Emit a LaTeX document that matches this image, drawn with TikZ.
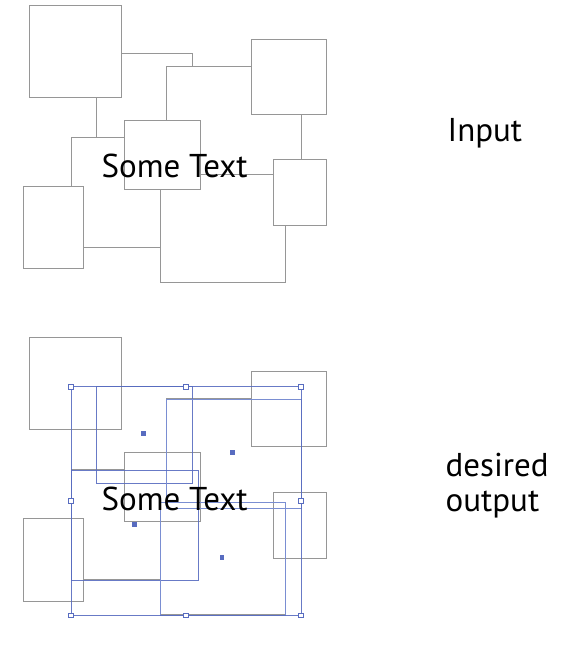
\documentclass[tikz,border=0pt]{standalone}
\usepackage{fontspec}
\setmainfont{PT Sans}
\definecolor{boxgray}{RGB}{150,150,150}
\definecolor{selblue}{RGB}{88,108,192}
\definecolor{lightblue}{RGB}{122,142,210}
\tikzset{
  box/.style={draw=boxgray, line width=0.9pt, inner sep=0pt, outer sep=0pt, fill=none},
  conn/.style={draw=boxgray, line width=0.9pt},
  selrect/.style={draw=selblue, line width=1pt, opacity=0.9},
  selrectlight/.style={draw=lightblue, line width=1pt},
  handle/.style={draw=selblue, fill=white, line width=0.7pt, minimum size=4.5pt, inner sep=0pt},
  cdot/.style={fill=selblue, minimum size=4.6pt, inner sep=0pt},
  bigtext/.style={font=\fontsize{33}{40}\selectfont, inner sep=0pt, text=black},
  sidetext/.style={font=\fontsize{33}{40}\selectfont, inner sep=0pt, anchor=base west, text=black},
}
\newcommand{\drawboxes}[1]{%
  \node[box, minimum width=91.5pt, minimum height=92pt] (A#1) at (75.25,51.3) {};
  \node[box, minimum width=74.3pt, minimum height=74.7pt] (B#1) at (288.85,76.65) {};
  \node[box, minimum width=76pt, minimum height=69pt] (C#1) at (162.3,154.8) {};
  \node[box, minimum width=52.7pt, minimum height=66pt] (D#1) at (299.65,192.7) {};
  \node[box, minimum width=60.3pt, minimum height=82.4pt] (E#1) at (53.15,227.5) {};
}
\begin{document}
\begin{tikzpicture}[x=1pt,y=-1pt]
\useasboundingbox (0,0) rectangle (561,661);
\fill[white] (0,0) rectangle (561,661);

% ---------- Input ----------
\drawboxes{t}
\coordinate (j1) at (192,66.3);
\coordinate (j2) at (160.3,282.3);
\coordinate (j3) at (285,282.3);
\draw[conn] (At.east |- 0,53.5) -| (j1);
\draw[conn] (Bt.west |- 0,66.3) -| (Ct.north -| 166.3,0);
\draw[conn] (At.south -| 96,0) -- (96,137);
\draw[conn] (Ct.west |- 0,137) -| (Et.north -| 71.3,0);
\draw[conn] (Bt.south -| 301,0) -- (Dt.north -| 301,0);
\draw[conn] (Ct.east |- 0,174.7) -- (Dt.west |- 0,174.7);
\draw[conn] (Ct.south -| 160.3,0) -- (j2) -- (j3) -- (Dt.south -| 285,0);
\draw[conn] (Et.east |- 0,247.3) -- (160.3,247.3);
\node[bigtext, anchor=base] (st) at (174.5,177.3) {Some Text};
\node[sidetext] (inp) at (447.5,141.7) {Input};

% ---------- desired output ----------
\begin{scope}[yshift=-332.6pt]
\drawboxes{b}
\draw[conn] (Ab.east |- 0,53.5) -- (186,53.5);
\draw[conn] (166.3,66.3) -- (Bb.west |- 0,66.3);
\draw[conn] (71.3,137) -- (Cb.west |- 0,137);
\draw[conn] (Eb.east |- 0,247.3) -- (160.3,247.3);
\draw[conn] (160.3,282.3) -- (285,282.3);
\end{scope}

% selection rectangles
\draw[selrect] (96,386.7) rectangle (192.3,483.3);
\draw[selrectlight] (166.3,399.3) rectangle (301,508.3);
\draw[selrect] (71,470) rectangle (198.3,580.3);
\draw[selrectlight] (160.3,502.3) rectangle (285,615.3);
\draw[selrect] (71,386.7) rectangle (301,615.3);

% centre points
\node[cdot] (c1) at (143.3,433.7) {};
\node[cdot] (c2) at (232.7,452.7) {};
\node[cdot] (c3) at (134.3,524.3) {};
\node[cdot] (c4) at (222,557.3) {};

\node[bigtext, anchor=base] (sb) at (174.5,510.5) {Some Text};

% handles
\node[handle] (h1) at (71,386.7) {};
\node[handle] (h2) at (186,386.7) {};
\node[handle] (h3) at (301,386.7) {};
\node[handle] (h4) at (71,500.7) {};
\node[handle] (h5) at (301,500.7) {};
\node[handle] (h6) at (71,615.3) {};
\node[handle] (h7) at (186,615.3) {};
\node[handle] (h8) at (301,615.3) {};

\node[sidetext] (des) at (445.5,476.7) {desired};
\node[sidetext] (out) at (445.5,511.7) {output};
\end{tikzpicture}
\end{document}
